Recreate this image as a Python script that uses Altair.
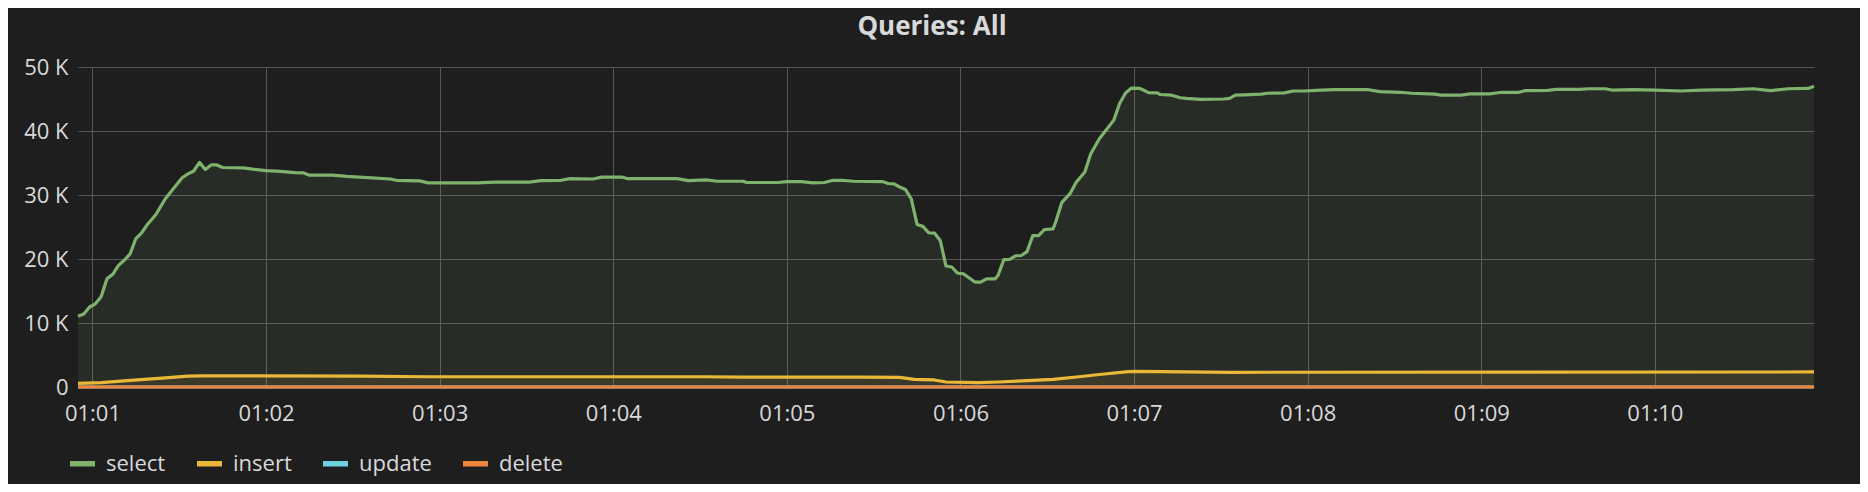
import altair as alt
import pandas as pd
from datetime import datetime, timezone

# ---- data (seconds after 01:00:55, values in queries/s) ----
select_sec = [0, 2, 4, 6, 8, 10, 12, 14, 16, 18, 20, 22, 24, 27, 30, 33, 36, 38, 40, 42, 44, 46, 48, 50,
              57, 61, 65, 70, 75, 78, 80, 88, 93, 100, 108, 110, 118, 121, 138, 144, 156, 160, 167, 170,
              178, 181, 188, 190, 207, 211, 217, 221, 230, 231, 242, 245, 250, 254, 258, 261, 264, 268,
              278, 280, 282, 284, 286, 288, 290, 292, 294, 296, 298, 300, 302, 304, 306, 310, 312, 314,
              317, 318, 320, 322, 324, 326, 328, 330, 332, 334, 337, 338, 340, 343, 345, 348, 350, 353,
              358, 360, 362, 364, 367, 368, 370, 373, 374, 378, 381, 383, 388, 396, 398, 400, 403, 409,
              411, 417, 420, 424, 428, 434, 446, 450, 457, 461, 469, 471, 478, 481, 488, 492, 498, 500,
              508, 511, 519, 522, 528, 530, 538, 545, 554, 561, 572, 579, 585, 591, 598, 600]
select_val = [11050, 11400, 12500, 13000, 14100, 16900, 17600, 19000, 19800, 20800, 23200, 24100, 25400,
              27000, 29300, 31000, 32700, 33300, 33750, 35100, 34000, 34700, 34700, 34300,
              34250, 34000, 33800, 33700, 33500, 33450, 33100, 33100, 32900, 32700, 32500, 32300, 32200,
              31900, 31900, 32000, 32000, 32250, 32300, 32550,
              32500, 32800, 32800, 32550, 32550, 32250, 32350, 32150, 32150, 31950, 31950, 32100, 32100,
              31900, 31950, 32300, 32300, 32150,
              32100, 31800, 31750, 31250, 30850, 29400, 25400, 25100, 24100, 24050, 22900, 18900, 18750,
              17800, 17700, 16400, 16400, 16900,
              16900, 17450, 19900, 19950, 20500, 20550, 21150, 23650, 23650, 24600, 24700, 25900, 28800,
              30300, 32000, 33600, 36400, 38800,
              41700, 44300, 45900, 46700, 46650, 46450, 46000, 45950, 45700, 45600, 45200, 45100, 44950,
              45000, 45100, 45600, 45650, 45750,
              45900, 45950, 46250, 46250, 46350, 46450, 46450, 46150, 46050, 45900, 45750, 45600, 45600,
              45800, 45800, 46050, 46050, 46300,
              46350, 46500, 46500, 46600, 46600, 46400, 46450, 46400, 46250, 46400, 46450, 46600, 46300,
              46600, 46650, 47000]

insert_sec = [0, 8, 17, 29, 38, 43, 63, 98, 121, 217, 230, 270, 284, 289, 296, 300, 311, 318, 328, 337,
              346, 353, 363, 366, 399, 600]
insert_val = [580, 670, 1000, 1400, 1700, 1750, 1750, 1700, 1600, 1600, 1550, 1550, 1500, 1200, 1100,
              780, 670, 780, 1000, 1200, 1600, 1950, 2400, 2450, 2300, 2350]

update_sec = [0, 600]
update_val = [0, 0]
delete_sec = [0, 600]
delete_val = [0, 0]

series_names = ["select", "insert", "update", "delete"]
series_colors = ["#7eb26d", "#eab839", "#6ed0e0", "#ef843c"]
y_ticks = [0, 10000, 20000, 30000, 40000, 50000]
tick_minutes = [1, 2, 3, 4, 5, 6, 7, 8, 9, 10]

T0 = datetime(2017, 1, 1, 1, 0, 55, tzinfo=timezone.utc).timestamp() * 1000.0
T1 = T0 + 600 * 1000.0
tick_ms = [datetime(2017, 1, 1, 1, m, 0, tzinfo=timezone.utc).timestamp() * 1000.0 for m in tick_minutes]

rows = []
for name, secs, vals in [("select", select_sec, select_val), ("insert", insert_sec, insert_val),
                         ("update", update_sec, update_val), ("delete", delete_sec, delete_val)]:
    for s, v in zip(secs, vals):
        rows.append({"t": T0 + s * 1000.0, "v": v, "series": name})
df = pd.DataFrame(rows)

FONT = "Open Sans"
TXT = "#d8d9da"

x_enc = alt.X(
    "t:T",
    scale=alt.Scale(type="utc", domain=[T0, T1], nice=False),
    axis=alt.Axis(title=None, values=tick_ms, labelExpr="utcFormat(datum.value, '%H:%M')",
                  domain=False, ticks=False, labelPadding=16, grid=True),
)
y_enc = alt.Y(
    "v:Q", stack=None,
    scale=alt.Scale(domain=[0, 50000], nice=False),
    axis=alt.Axis(title=None, values=y_ticks, domain=False, ticks=False, labelPadding=10,
                  labelExpr="datum.value == 0 ? '0' : (datum.value / 1000) + ' K'"),
)

base = alt.Chart(df)
layers = []
for name, col in zip(series_names, series_colors):
    sub = base.transform_filter(alt.datum.series == name)
    layers.append(sub.mark_area(color=col, opacity=0.1).encode(x=x_enc, y=y_enc))
    layers.append(sub.mark_line(strokeWidth=3.2, strokeJoin="round").encode(
        x=x_enc, y=y_enc,
        color=alt.Color("series:N", scale=alt.Scale(domain=series_names, range=series_colors),
                        legend=alt.Legend(title=None, orient="none", legendX=-11, legendY=381,
                                          direction="horizontal", symbolType="stroke",
                                          symbolSize=625, symbolStrokeWidth=5.5, labelOffset=8,
                                          columnPadding=20, labelFontSize=22, labelFont=FONT,
                                          labelColor=TXT))))

chart = alt.layer(*layers).properties(
    width=1736, height=320,
    title=alt.TitleParams("Queries: All", anchor="middle", fontSize=26, font=FONT, fontWeight="bold",
                          color=TXT, offset=16, dx=-14),
    autosize=alt.AutoSizeParams(type="none"),
    padding={"left": 70, "top": 59, "right": 46, "bottom": 97},
    background="#1f1e1f",
).configure_view(stroke=None).configure_axis(
    labelFont=FONT, labelFontSize=22, labelColor=TXT, gridColor="#575757", gridOpacity=1, gridWidth=1
)

chart.save("out.html", embed_options={"renderer": "svg", "actions": False})
